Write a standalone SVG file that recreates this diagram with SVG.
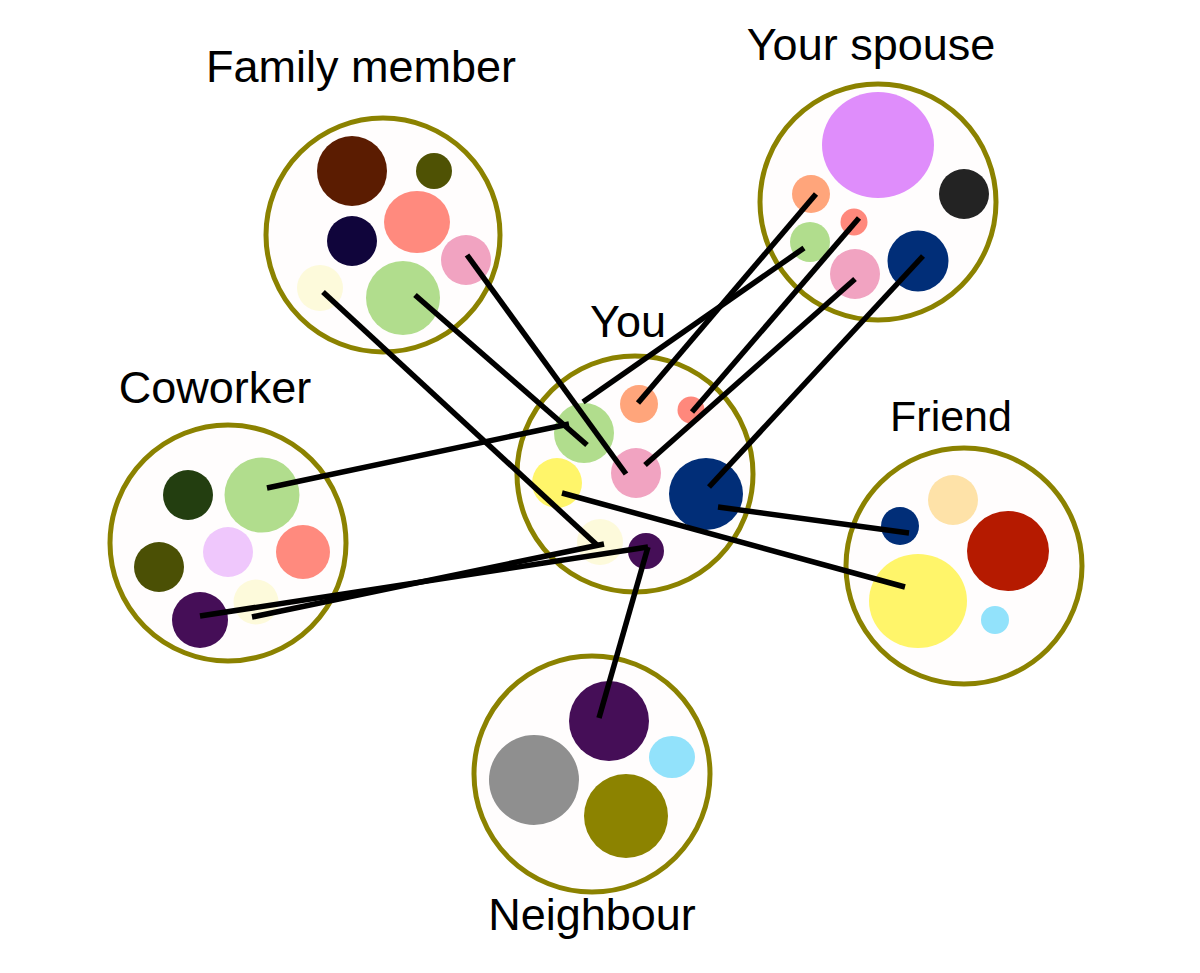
<svg xmlns="http://www.w3.org/2000/svg" width="1200" height="973" viewBox="0 0 1200 973">
<style>
.ring{fill:#fffdfd;stroke:#8b8200;stroke-width:5}
.lbl{font-family:"Liberation Sans",Arial,sans-serif;font-size:45px;fill:#000;text-anchor:middle}
.ln{stroke:#000;stroke-width:5.5;fill:none}
</style>
<rect width="1200" height="973" fill="#fff"/>
<g id="family">
<circle class="ring" cx="383" cy="235" r="117"/>
<circle cx="352" cy="171" r="35" fill="#5b1c01"/>
<circle cx="434" cy="171" r="18" fill="#4f5204"/>
<ellipse cx="417" cy="222" rx="33" ry="31" fill="#ff8a7e"/>
<circle cx="352" cy="241" r="25" fill="#10053b"/>
<circle cx="466" cy="260" r="25" fill="#f1a3c1"/>
<circle cx="320" cy="288" r="23" fill="#fdfadb"/>
<circle cx="403" cy="298" r="37" fill="#b1dd8d"/>
<text class="lbl" x="361" y="82">Family member</text>
</g>
<g id="spouse">
<circle class="ring" cx="878" cy="202" r="118"/>
<ellipse cx="878" cy="145" rx="56" ry="53" fill="#df8dfb"/>
<circle cx="964" cy="194" r="25" fill="#232323"/>
<circle cx="811" cy="194" r="19" fill="#ffa57b"/>
<circle cx="854" cy="222" r="13.5" fill="#ff887c"/>
<circle cx="810" cy="242" r="20" fill="#b1dd8d"/>
<circle cx="855" cy="274" r="25" fill="#f1a3c1"/>
<circle cx="918" cy="261" r="30.5" fill="#012e78"/>
<text class="lbl" x="871" y="60">Your spouse</text>
</g>
<g id="you">
<circle class="ring" cx="635" cy="474" r="118"/>
<circle cx="639" cy="404" r="19" fill="#ffa57b"/>
<circle cx="691" cy="410" r="13.5" fill="#ff887c"/>
<circle cx="584" cy="433" r="30" fill="#b1dd8d"/>
<circle cx="636" cy="473" r="25" fill="#f1a3c1"/>
<circle cx="557" cy="483" r="25" fill="#fff56a"/>
<ellipse cx="706" cy="494" rx="37" ry="36" fill="#012e78"/>
<circle cx="600" cy="542" r="23" fill="#fdfadb"/>
<circle cx="646" cy="551" r="18" fill="#450e57"/>
<text class="lbl" x="628" y="337">You</text>
</g>
<g id="coworker">
<circle class="ring" cx="228" cy="543" r="118"/>
<circle cx="188" cy="495" r="25" fill="#233e10"/>
<circle cx="262" cy="495" r="37.5" fill="#b1dd8d"/>
<circle cx="159" cy="567" r="25" fill="#4b5005"/>
<circle cx="228" cy="552" r="25" fill="#efc7fc"/>
<circle cx="303" cy="552" r="27" fill="#ff8a7e"/>
<circle cx="256" cy="602" r="22.5" fill="#fdfadb"/>
<circle cx="200" cy="620" r="28" fill="#450e57"/>
<text class="lbl" x="215" y="403">Coworker</text>
</g>
<g id="friend">
<circle class="ring" cx="964" cy="566" r="118"/>
<circle cx="953" cy="500" r="25" fill="#fee2a8"/>
<circle cx="900" cy="526" r="19" fill="#012e78"/>
<ellipse cx="1008" cy="551" rx="41" ry="40" fill="#b51a00"/>
<ellipse cx="918" cy="601" rx="49" ry="47" fill="#fff56a"/>
<circle cx="995" cy="620" r="14" fill="#92e2fb"/>
<text class="lbl" x="951" y="431" style="font-size:43px">Friend</text>
</g>
<g id="neighbour">
<circle class="ring" cx="592" cy="774" r="118"/>
<circle cx="609" cy="721" r="40" fill="#450e57"/>
<circle cx="534" cy="780" r="45" fill="#8f8f8f"/>
<ellipse cx="672" cy="757" rx="23" ry="21" fill="#92e2fb"/>
<circle cx="626" cy="816" r="42" fill="#8c8300"/>
<text class="lbl" x="592" y="930">Neighbour</text>
</g>
<g id="connectors">
<line class="ln" x1="323" y1="292" x2="597" y2="545"/>
<line class="ln" x1="415" y1="295" x2="587" y2="445"/>
<line class="ln" x1="467" y1="255" x2="626" y2="474"/>
<line class="ln" x1="816" y1="194" x2="638" y2="403"/>
<line class="ln" x1="804" y1="248" x2="583" y2="402"/>
<line class="ln" x1="859" y1="218" x2="692" y2="412"/>
<line class="ln" x1="855" y1="279" x2="645" y2="465"/>
<line class="ln" x1="923" y1="256" x2="709" y2="487"/>
<line class="ln" x1="267" y1="488" x2="569" y2="424"/>
<line class="ln" x1="200" y1="616" x2="648" y2="547"/>
<line class="ln" x1="252" y1="617" x2="604" y2="544"/>
<line class="ln" x1="562" y1="493" x2="905" y2="587"/>
<line class="ln" x1="718" y1="507" x2="909" y2="533"/>
<line class="ln" x1="648" y1="547" x2="599" y2="718"/>
</g>
</svg>
